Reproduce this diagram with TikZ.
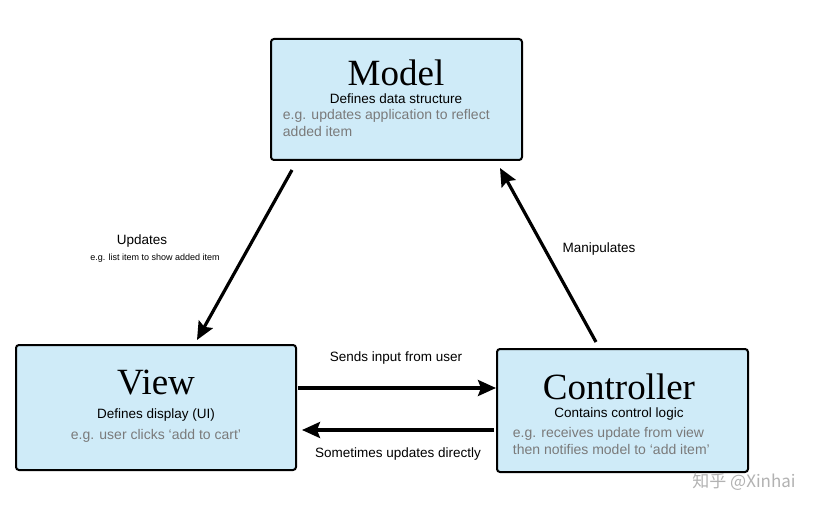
\documentclass[tikz,border=0pt]{standalone}
\usepackage{fontspec}
\setmainfont{Liberation Sans}
\newfontfamily\titlefont{Liberation Serif}
\newfontfamily\cjk{Noto Sans CJK SC}
\usetikzlibrary{arrows.meta}
\definecolor{boxblue}{HTML}{CFEBF8}
\definecolor{hintgray}{HTML}{7A7A7A}

\begin{document}
\begin{tikzpicture}[x=1pt,y=-1pt,-{Stealth[length=18pt,width=16pt,inset=3pt]},line width=3.2pt,
  part/.style={draw,line width=2pt,rounded corners=3pt,fill=boxblue,-},
  title/.style={font=\titlefont\fontsize{37}{39}\selectfont},
  what/.style={font=\fontsize{13.5}{15}\selectfont},
  hint/.style={font=\fontsize{14}{17}\selectfont,text=hintgray,align=left},
  lbl/.style={font=\fontsize{13.5}{15}\selectfont}]
\useasboundingbox (0,0) rectangle (833,516);
\fill[white] (0,0) rectangle (833,516);

% boxes
\draw[part] (271,39) rectangle (522,160);
\draw[part] (16,345) rectangle (296,470);
\draw[part] (497,349) rectangle (748,472);

\node[title] (mtitle) at (396,73) {Model};
\node[what] (mwhat) at (396,99) {Defines data structure};
\node[hint,anchor=north west] (mhint) at (278,104) {e.g. updates application to reflect\\added item};

\node[title] (vtitle) at (156,383) {View};
\node[what] (vwhat) at (156,415) {Defines display (UI)};
\node[hint] (vhint) at (156,436) {e.g. user clicks `add to cart'};

\node[title] (ctitle) at (619,387) {Controller};
\node[what] (cwhat) at (619,414) {Contains control logic};
\node[hint,anchor=north west] (chint) at (508,422) {e.g. receives update from view\\then notifies model to `add item'};

% connectors
\coordinate (m1) at (292,170);
\coordinate (v1) at (197,340);
\coordinate (c1) at (596,342);
\coordinate (m2) at (500,168);
\coordinate (v2) at (298,388);
\coordinate (c2) at (496,388);
\coordinate (c3) at (494,430);
\coordinate (v3) at (302,430);
\draw (m1) -- (v1);
\draw (c1) -- (m2);
\draw (v2) -- (c2);
\draw (c3) -- (v3);

\node[lbl] (upd) at (142,241) {Updates};
\node[font=\fontsize{9}{10}\selectfont] (updhint) at (155,258) {e.g. list item to show added item};
\node[lbl] (man) at (599,249) {Manipulates};
\node[lbl] (send) at (396,358) {Sends input from user};
\node[lbl] (some) at (398,454) {Sometimes updates directly};
\node[font=\cjk\fontsize{17}{19}\selectfont,text=black!30] (mark) at (744,482) {知乎 @Xinhai};
\end{tikzpicture}
\end{document}
